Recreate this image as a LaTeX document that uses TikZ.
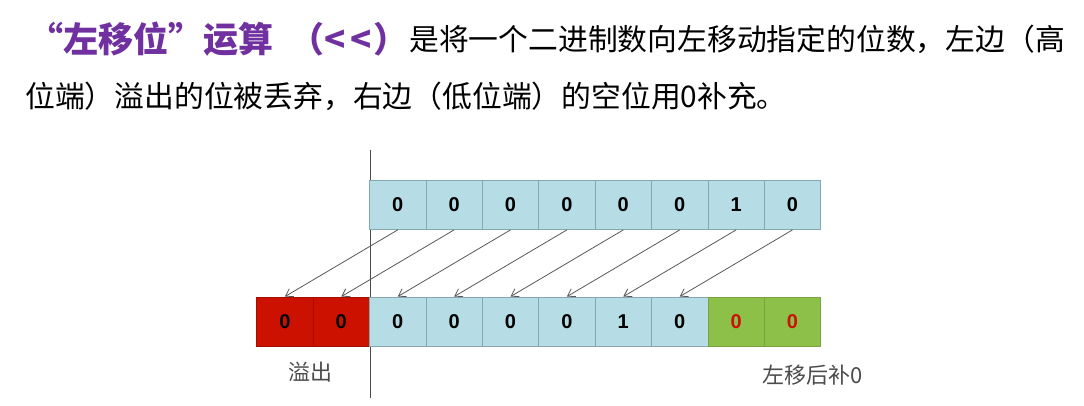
\documentclass[tikz,border=0pt]{standalone}
\usepackage{fontspec}
\setmainfont{Liberation Sans}
\newfontfamily\cjk{Noto Sans CJK SC}
\usepackage{tikz}
\usetikzlibrary{positioning,arrows.meta}
\definecolor{titlepurple}{RGB}{112,48,160}
\definecolor{cellblue}{RGB}{182,221,229}
\definecolor{cellline}{RGB}{132,168,176}
\definecolor{overred}{RGB}{204,17,0}
\definecolor{padgreen}{RGB}{141,192,73}
\tikzset{
  bitcell/.style={draw=cellline, line width=0.8pt, fill=cellblue, minimum width=56.4pt, minimum height=49pt, inner sep=0pt, font=\fontsize{20}{20}\selectfont\bfseries},
  lostcell/.style={bitcell, fill=overred, draw=overred!80!black},
  padcell/.style={bitcell, fill=padgreen, draw=padgreen!85!black, text=overred},
  shiftarrow/.style={draw, line width=0.8pt, black!65, -{Straight Barb[length=7pt,width=9pt]}},
  bodytext/.style={inner sep=0pt, font=\cjk\fontsize{29.8}{36}\selectfont},
  note/.style={font=\cjk\fontsize{22}{22}\selectfont, text=black!70, inner sep=0pt}
}

\begin{document}
\begin{tikzpicture}[x=1pt, y=-1pt]
    \useasboundingbox (0,0) rectangle (1084,406);
    \fill[white] (0,0) rectangle (1084,406);

    % Title text
    \node (head) [anchor=west, inner sep=0pt, text=titlepurple, font=\cjk\fontsize{35}{36}\selectfont\bfseries] at (28,39)
        {“左移位”运算\hspace{16pt}（<\hspace{5pt}<\hspace{2pt}）\hspace{13pt}};
    \node (line1) [bodytext, right=0pt of head] {是将一个二进制数向左移动指定的位数，左边（高};
    \node (line2) [bodytext, anchor=west] at (25,96)
        {位端）溢出的位被丢弃，右边（低位端）的空位用0补充。};

    % Divider between kept bits and overflow
    \coordinate (divtop) at (370,150);
    \coordinate (divbot) at (370,398);
    \draw[line width=0.9pt, black!70] (divtop) -- (divbot);

    % Original value
    \foreach \v [count=\i from 0] in {0,0,0,0,0,0,1,0}
        \node (t\i) [bitcell] at (369.5+28.2+56.4*\i,205) {\v};

    % Shifted value
    \foreach \v [count=\i from 0] in {0,0,0,0,0,0,1,0,0,0} {
        \ifnum\i<2
            \node (b\i) [lostcell] at (256.7+28.2+56.4*\i,321.5) {\v};
        \else\ifnum\i>7
            \node (b\i) [padcell] at (256.7+28.2+56.4*\i,321.5) {\v};
        \else
            \node (b\i) [bitcell] at (256.7+28.2+56.4*\i,321.5) {\v};
        \fi\fi
    }

    % Arrows: every bit moves two places left
    \foreach \i in {0,...,7}
        \draw[shiftarrow] (t\i.south) -- (b\i.north);

    % Labels
    \node (lost) [note, anchor=west] at (288,372) {溢出};
    \node (fill) [note, anchor=west] at (762,375) {左移后补0};
\end{tikzpicture}
\end{document}
